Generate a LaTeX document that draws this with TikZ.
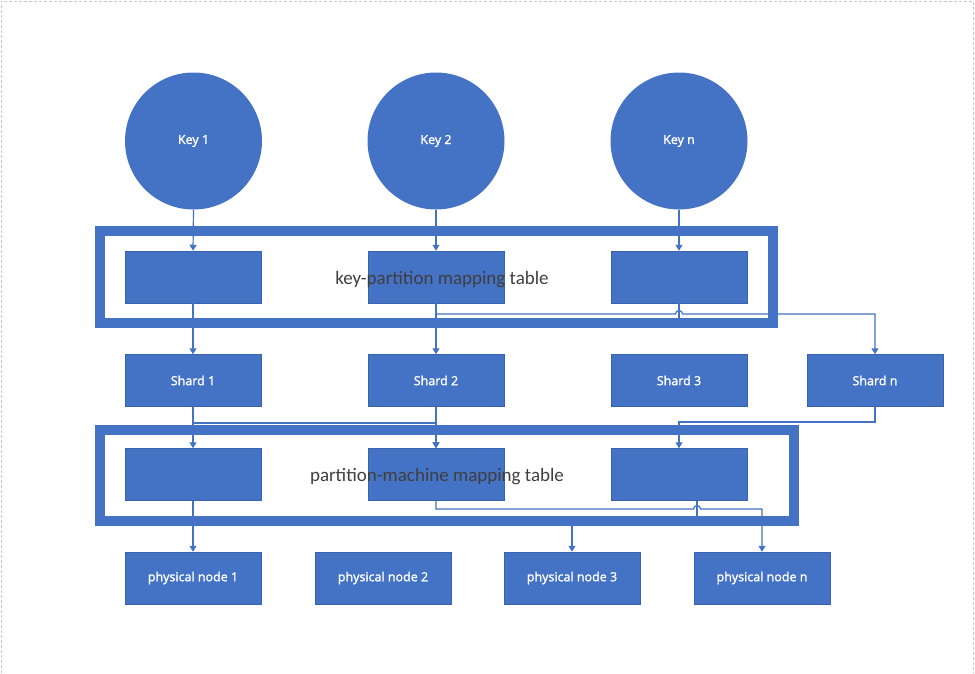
\documentclass[tikz,border=0pt]{standalone}
\usepackage{fontspec}
\setmainfont{Open Sans}
\newfontfamily\nodef{Open Sans}[FakeBold=1.6]
\newfontfamily\calib{Carlito}
\usetikzlibrary{arrows.meta}
\definecolor{obl}{HTML}{4472C4}
\definecolor{obd}{HTML}{3A63AE}
\definecolor{tgray}{HTML}{3F3F3F}
\tikzset{
  keyc/.style={circle, fill=obl, draw=none, minimum size=137pt, inner sep=0pt, text=white, font=\nodef\fontsize{12.5}{14}\selectfont},
  bx/.style={rectangle, fill=obl, draw=obd, line width=0.5pt, minimum width=136pt, minimum height=52pt, inner sep=0pt, text=white, font=\nodef\fontsize{12.5}{14}\selectfont},
  frm/.style={draw=obl, line width=10pt},
  con/.style={draw=obl, line width=1.2pt},
  arr/.style={con, -{Triangle[width=7pt,length=6pt]}},
  lbl/.style={text=tgray, font=\calib\fontsize{19}{22}\selectfont, inner sep=0pt},
  brd/.style={draw=black!22, line width=0.8pt, dash pattern=on 3pt off 2pt}
}
\begin{document}
\begin{tikzpicture}[x=1pt,y=-1pt]
\useasboundingbox (0,0) rectangle (975,673);
\draw[brd] (1,673) -- (1,1) -- (973,1) -- (973,673);

% keys
\node[keyc] (key1) at (193.5,141) {Key 1};
\node[keyc] (key2) at (436,141) {Key 2};
\node[keyc] (keyn) at (679,141) {Key n};

% table 1 boxes
\node[bx] (t1a) at (193,277) {};
\node[bx] (t1b) at (436,277) {};
\node[bx] (t1c) at (679,277) {};

% shards
\node[bx] (s1) at (193,380.5) {Shard 1};
\node[bx] (s2) at (436,380.5) {Shard 2};
\node[bx] (s3) at (679,380.5) {Shard 3};
\node[bx] (sn) at (875,380.5) {Shard n};

% table 2 boxes
\node[bx] (t2a) at (193,474.5) {};
\node[bx] (t2b) at (436,474.5) {};
\node[bx] (t2c) at (679,474.5) {};

% physical nodes
\node[bx] (p1) at (193,578) {physical node 1};
\node[bx] (p2) at (383,578) {physical node 2};
\node[bx] (p3) at (572,578) {physical node 3};
\node[bx] (pn) at (762,578) {physical node n};

% frame anchor coordinates
\coordinate (f1n) at (679,323);
\coordinate (f2b) at (697,521);
\coordinate (f2s) at (572,521);

% connectors
\draw[arr] (key1.south) -- (t1a.north);
\draw[arr] (key2.south) -- (t1b.north);
\draw[arr] (keyn.south) -- (t1c.north);
\draw[arr] (t1a.south) -- (s1.north);
\draw[arr] (t1b.south) -- (s2.north);
\draw[arr] (t1b.south) -- (436,314) -- (675.5,314) arc[start angle=180,end angle=360,radius=3.5] -- (875,314) -- (sn.north);
\draw[con] (t1c.south) -- (f1n);

\draw[arr] (s1.south) -- (t2a.north);
\draw[arr] (s1.south) -- (193,423) -- (436,423) -- (t2b.north);
\draw[arr] (s2.south) -- (t2b.north);
\draw[arr] (sn.south) -- (875,422) -- (679,422) -- (t2c.north);

\draw[arr] (t2a.south) -- (p1.north);
\draw[arr] (t2b.south) -- (436,509) -- (693.5,509) arc[start angle=180,end angle=360,radius=3.5] -- (762,509) -- (pn.north);
\draw[con] (t2c.south -| f2b) -- (f2b);
\draw[arr] (f2s) -- (p3.north);

% frames
\draw[frm] (99.5,231) rectangle (773,323);
\draw[frm] (100,429.5) rectangle (793.5,521);

% table labels
\node[lbl] (lab1) at (442,280) {key-partition mapping table};
\node[lbl] (lab2) at (437,477) {partition-machine mapping table};
\end{tikzpicture}
\end{document}
